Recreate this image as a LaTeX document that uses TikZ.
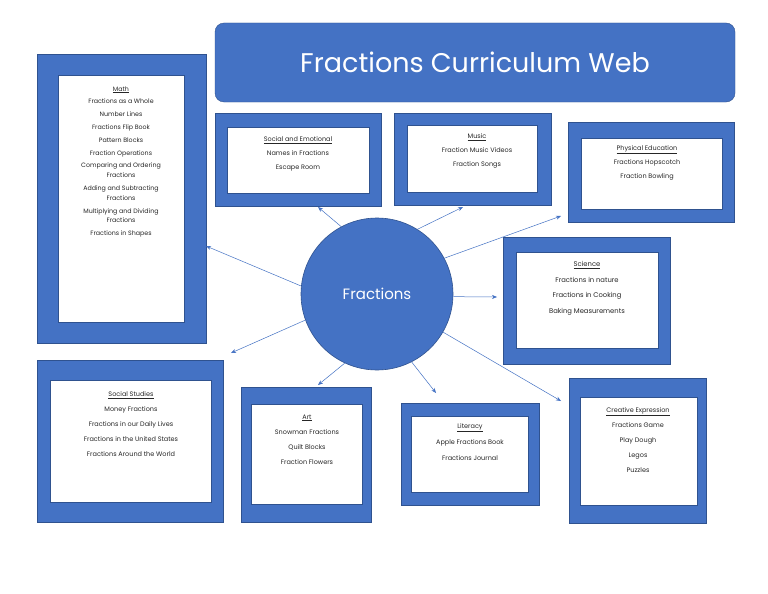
\documentclass[tikz,border=0pt]{standalone}
\usepackage{fontspec}
\setmainfont{Poppins}
\usetikzlibrary{arrows.meta}
\definecolor{bl}{RGB}{68,114,196}
\definecolor{bd}{RGB}{47,82,143}
\tikzset{
 outer/.style={fill=bl,draw=bd,line width=0.6pt},
 inner/.style={fill=white,draw=bd,line width=0.5pt},
 lst/.style={align=center,font=\fontsize{6.5}{14}\selectfont,text=black!85},
 arr/.style={draw=bl,line width=0.5pt,-{Stealth[length=5pt,width=4pt]}}
}
\newcommand{\hd}[1]{\underline{#1}}
\begin{document}
\begin{tikzpicture}[x=1pt,y=-1pt]
\useasboundingbox (0,0) rectangle (768,594);
\fill[white] (0,0) rectangle (768,594);
% title
\node[fill=bl,draw=bd,rounded corners=9pt,minimum width=520pt,minimum height=79pt,text=white,font=\fontsize{27}{30}\selectfont] (title) at (475,62.5) {Fractions Curriculum Web};
% boxes
\newcommand{\bx}[9]{%
 \draw[outer] (#1,#3) rectangle (#2,#4);
 \draw[inner] (#5,#7) rectangle (#6,#8);
 \node[lst] (#9) at ({(#1+#2)/2},{(#3+#4)/2}) {};}
\bx{37}{206}{54}{343}{58}{184}{75}{322}{math}
\bx{215}{381}{113}{206}{227}{369}{127}{193}{se}
\bx{394}{551}{113}{205}{407}{537}{125}{192}{music}
\bx{568}{734}{122}{222}{581}{722}{138}{209}{pe}
\bx{503}{670}{237}{364}{516}{658}{252}{348}{sci}
\bx{37}{223}{360}{522}{50}{211}{380}{502}{ss}
\bx{241}{371}{387}{522}{251}{362}{404}{504}{art}
\bx{401}{539}{403}{505}{411}{528}{416}{492}{lit}
\bx{569}{706}{378}{523}{580}{697}{397}{505}{ce}
% texts
\node[lst,font=\fontsize{6.3}{9.8}\selectfont,anchor=north] at (121,83) {\hd{Math}\\[3pt]Fractions as a Whole\\[3pt]Number Lines\\[3pt]Fractions Flip Book\\[3pt]Pattern Blocks\\[3pt]Fraction Operations\\[3pt]Comparing and Ordering\\Fractions\\[3pt]Adding and Subtracting\\Fractions\\[3pt]Multiplying and Dividing\\Fractions\\[3pt]Fractions in Shapes};
\node[lst,anchor=north] at (298,133) {\hd{Social and Emotional}\\Names in Fractions\\Escape Room};
\node[lst,anchor=north] at (477,130) {\hd{Music}\\Fraction Music Videos\\Fraction Songs};
\node[lst,anchor=north] at (647,142) {\hd{Physical Education}\\Fractions Hopscotch\\Fraction Bowling};
\node[lst,font=\fontsize{6.8}{15.5}\selectfont,anchor=north] at (587,258) {\hd{Science}\\Fractions in nature\\Fractions in Cooking\\Baking Measurements};
\node[lst,font=\fontsize{6.5}{15}\selectfont,anchor=north] at (131,388) {\hd{Social Studies}\\Money Fractions\\Fractions in our Daily Lives\\Fractions in the United States\\Fractions Around the World};
\node[lst,font=\fontsize{6.5}{15}\selectfont,anchor=north] at (307,411) {\hd{Art}\\Snowman Fractions\\Quilt Blocks\\Fraction Flowers};
\node[lst,font=\fontsize{6.5}{16}\selectfont,anchor=north] at (470,420) {\hd{Literacy}\\Apple Fractions Book\\Fractions Journal};
\node[lst,font=\fontsize{6.5}{15}\selectfont,anchor=north] at (638,404) {\hd{Creative Expression}\\Fractions Game\\Play Dough\\Legos\\Puzzles};
% center
\node[circle,fill=bl,draw=bd,line width=0.6pt,minimum size=152pt,text=white,font=\fontsize{15}{18}\selectfont] (c) at (377,294) {Fractions};
% arrows
\draw[arr] (c.174) -- (206,246);
\draw[arr] (c.118) -- (318,207);
\draw[arr] (c.58) -- (463,207);
\draw[arr] (c.28) -- (561,216);
\draw[arr] (c.-2) -- (497,297);
\draw[arr] (c.200) -- (231,353);
\draw[arr] (c.245) -- (318,385);
\draw[arr] (c.297) -- (436,393);
\draw[arr] (c.330) -- (561,401);
\end{tikzpicture}
\end{document}
